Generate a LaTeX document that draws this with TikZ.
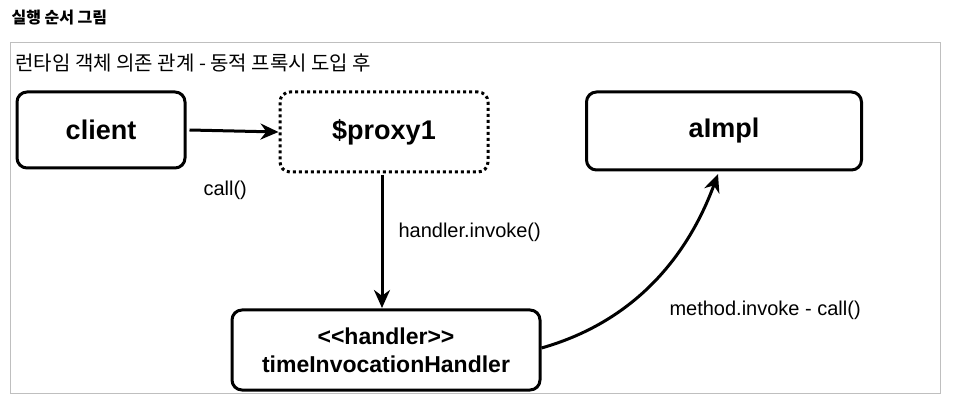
\documentclass[tikz,border=0pt]{standalone}
\usepackage{fontspec}
\setmainfont{Liberation Sans}
\newfontfamily\cjk{Noto Sans CJK KR}
\usetikzlibrary{arrows.meta}
\begin{document}
\begin{tikzpicture}[x=1pt,y=-1pt,
  box/.style={draw,line width=3pt,rounded corners=10pt,font=\fontsize{27}{30}\selectfont\bfseries,align=center},
  lbl/.style={font=\fontsize{20}{24}\selectfont,anchor=west},
  arr/.style={line width=3pt,-{Stealth[length=18pt,width=16pt]}}]
\useasboundingbox (0,0) rectangle (954,414);
\node[anchor=west,font=\cjk\fontsize{16}{19}\selectfont\bfseries] (title) at (8,18) {실행 순서 그림};
\draw[gray!50,line width=1pt] (10,43) rectangle (940,393);
\node[anchor=west,font=\cjk\fontsize{20}{24}\selectfont] (sub) at (12,63) {런타임 객체 의존 관계 - 동적 프록시 도입 후};
\node[box,minimum width=168pt,minimum height=76pt] (client) at (101,130) {client};
\node[box,dashed,minimum width=208pt,minimum height=80pt] (proxy) at (384,132) {\$proxy1};
\node[box,minimum width=275pt,minimum height=78pt] (aimpl) at (724,131) {aImpl};
\node[box,minimum width=308pt,minimum height=80pt,font=\fontsize{23}{28}\selectfont\bfseries] (handler) at (386,350) {{<}{<}handler{>}{>}\\timeInvocationHandler};
\draw[arr] (client.east) ++(3,0) -- (proxy.west);
\node[lbl] (l1) at (200,190) {call()};
\draw[arr] (382,175) -- (382,308);
\node[lbl] (l2) at (395,232) {handler.invoke()};
\draw[arr] (handler.east) ++(0,-2) .. controls (640,320) and (690,250) .. (718,174);
\node[lbl] (l3) at (666,310) {method.invoke - call()};
\end{tikzpicture}
\end{document}
